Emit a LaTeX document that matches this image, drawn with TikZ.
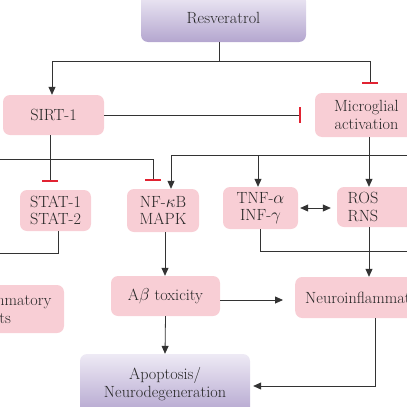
\documentclass[tikz,border=0pt]{standalone}
\usetikzlibrary{arrows.meta}

\definecolor{rosa}{RGB}{248,206,213}
\definecolor{lillatopp}{RGB}{238,234,245}
\definecolor{lillabunn}{RGB}{180,166,207}
\definecolor{hemrod}{RGB}{225,35,50}

\begin{document}
\begin{tikzpicture}
   [
    x=1pt, y=-1pt,
    every node/.style={font=\fontsize{16.2}{17.5}\selectfont, text=black!85,
                       align=center, inner sep=0pt},
    boks/.style={rectangle, rounded corners=7pt, fill=rosa},
    lilla/.style={rectangle, rounded corners=7pt, top color=lillatopp,
                  bottom color=lillabunn},
    linje/.style={line width=0.8pt, draw=black!80},
    pil/.style={linje, -{Triangle[length=8pt, width=7pt]}},
    dobbelpil/.style={linje, {Triangle[length=8pt, width=7pt]}-{Triangle[length=8pt, width=7pt]}},
    hemmer/.style={linje, -{Bar[width=16pt, line width=1.6pt, color=hemrod]},
                   shorten >=9pt}
    ]

\useasboundingbox (0,0) rectangle (407,407);

% top
\node[lilla, minimum width=165pt, minimum height=48pt] (res) at (223.5,18) {\raisebox{-3pt}{Resveratrol}};

% row 2
\node[boks, minimum width=101pt, minimum height=40pt] (sirt) at (53.5,115) {SIRT-1};
\node[boks, minimum width=103pt, minimum height=44pt] (mikro) at (366.5,115) {Microglial\\activation};

% row 3
\node[boks, minimum width=71pt, minimum height=41pt] (stat) at (55.5,210.5) {STAT-1\\STAT-2};
\node[boks, minimum width=72pt, minimum height=43pt] (nfkb) at (163,210.5) {NF-$\kappa$B\\MAPK};
\node[boks, minimum width=75pt, minimum height=42pt] (tnf) at (260.5,208) {TNF-$\alpha$\\INF-$\gamma$};
\node[boks, minimum width=80pt, minimum height=40pt] (ros) at (377,207) {};
\node (rostekst) at (363,207) {ROS\\RNS};

% row 4
\node[boks, minimum width=146pt, minimum height=48pt] (anti) at (-9,309) {Anti-inflammatory\\effects};
\node[boks, minimum width=109pt, minimum height=40pt] (ab) at (165.5,296) {A$\beta$ toxicity};
\node[boks, anchor=west, inner xsep=10pt, minimum height=41pt] (neuro) at (295,297.5) {Neuroinflammation};

% bottom
\node[lilla, minimum width=170pt, minimum height=60pt] (apop) at (165,384) {Apoptosis/\\Neurodegeneration};

\coordinate (venstre) at (-5,159);
\coordinate (hoyre) at (412,155);

% from resveratrol
\draw[linje] ([xshift=-4pt]res.south) -- ([xshift=-4pt]res.south |- 0,61) coordinate (gren);
\draw[pil] (gren) -| ([xshift=-1.5pt]sirt.north);
\draw[hemmer] (gren) -| ([xshift=3.5pt]mikro.north);

% from sirt-1
\draw[hemmer, shorten >=14pt] (sirt.east) -- (sirt.east -| mikro.west);
\draw[hemmer, shorten >=8pt] ([xshift=-3.5pt]sirt.south) -- ([xshift=-3.5pt]sirt.south |- stat.north);
\draw[hemmer, shorten >=8pt] (venstre) -| ([xshift=-10pt]nfkb.north);

% from microglia
\draw[pil] (hoyre) -| ([xshift=8pt]nfkb.north);
\draw[pil] ([xshift=-2.5pt]tnf.north |- hoyre) -- ([xshift=-2.5pt]tnf.north);
\draw[pil] ([xshift=2.5pt]mikro.south) -- ([xshift=2.5pt]mikro.south |- ros.north);
\draw[dobbelpil, shorten <=2pt, shorten >=6pt] (tnf.east) -- (tnf.east -| ros.west);

% lower part
\draw[linje] ([xshift=2.5pt]stat.south) |- (-5,253);
\draw[linje] (tnf.south) |- (412,251);
\draw[pil] ([xshift=2.5pt]mikro.south |- ros.south) -- ([xshift=2.5pt]mikro.south |- neuro.north);
\draw[pil] ([xshift=2pt]nfkb.south) -- ([xshift=2pt]nfkb.south |- ab.north);
\draw[pil, shorten >=12pt] ([yshift=-4pt]ab.east) -- ([yshift=-4pt]ab.east -| neuro.west);
\draw[pil] (ab.south) -- (apop.north);
\draw[pil, shorten >=3pt] ([xshift=80pt]neuro.south west) |- ([yshift=-2pt]apop.east);

\end{tikzpicture}
\end{document}
